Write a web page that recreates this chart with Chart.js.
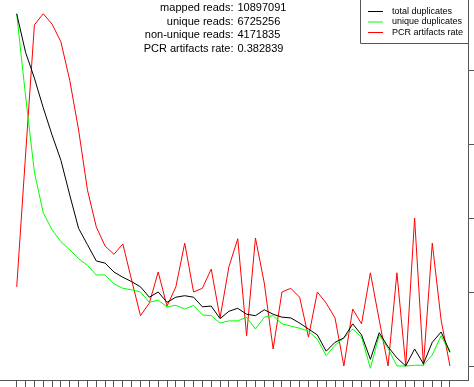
<!DOCTYPE html>
<html>
<head>
<meta charset="utf-8">
<script src="https://cdn.jsdelivr.net/npm/chart.js@4.4.0/dist/chart.umd.min.js"></script>
<style>
  html, body { margin: 0; padding: 0; background: #fff; }
  canvas { display: block; }
</style>
</head>
<body>
<canvas id="dupChart" width="474" height="387"></canvas>
<script>
// duplication level on the x axis
const levels = [1, 2, 3, 4, 5, 6, 7, 8, 9, 10, 11, 12, 13, 14, 15, 16, 17, 18, 19, 20,
  21, 22, 23, 24, 25, 26, 27, 28, 29, 30, 31, 32, 33, 34, 35, 36, 37, 38, 39, 40,
  41, 42, 43, 44, 45, 46, 47, 48, 49, 50];

const totalDuplicates = [4.76, 4.24, 3.89, 3.49, 3.12, 2.78, 2.31, 1.86, 1.64, 1.42,
  1.39, 1.27, 1.20, 1.14, 1.07, 0.93, 1.00, 0.86, 0.93, 0.95,
  0.93, 0.80, 0.81, 0.64, 0.74, 0.78, 0.70, 0.68, 0.76, 0.70,
  0.66, 0.65, 0.58, 0.50, 0.42, 0.20, 0.32, 0.38, 0.57, 0.42,
  0.09, 0.45, 0.26, 0.11, 0.00, 0.23, 0.03, 0.32, 0.46, 0.19];

const uniqueDuplicates = [4.76, 3.65, 2.62, 2.07, 1.84, 1.68, 1.57, 1.45, 1.36, 1.23,
  1.23, 1.11, 1.05, 1.03, 1.00, 0.86, 0.89, 0.80, 0.82, 0.77,
  0.82, 0.69, 0.68, 0.58, 0.61, 0.61, 0.66, 0.50, 0.66, 0.68,
  0.57, 0.54, 0.51, 0.47, 0.36, 0.14, 0.28, 0.38, 0.50, 0.39,
  -0.03, 0.42, 0.24, 0.00, 0.00, 0.01, 0.01, 0.15, 0.41, 0.18];

const pcrArtifactsRate = [1.07, 2.85, 4.61, 4.76, 4.62, 4.38, 3.86, 3.19, 2.38, 1.88,
  1.62, 1.51, 1.65, 1.16, 0.68, 0.85, 1.27, 0.81, 1.07, 1.66,
  1.00, 1.05, 1.31, 0.65, 1.34, 1.72, 0.41, 1.73, 1.12, 0.23,
  1.00, 1.05, 0.93, 0.39, 1.00, 0.85, 0.65, 0.00, 0.77, 0.57,
  1.26, 0.62, 0.00, 1.26, 0.00, 2.00, 0.01, 1.66, 0.62, 0.00];

const yTicks = [0, 1, 2, 3, 4];

const statLabels = ['mapped reads:', 'unique reads:', 'non-unique reads:', 'PCR artifacts rate:'];
const statValues = ['10897091', '6725256', '4171835', '0.382839'];

const seriesNames = ['total duplicates', 'unique duplicates', 'PCR artifacts rate'];
const seriesColors = ['#000000', '#00ff00', '#ff0000'];

function toPoints(values) {
  return levels.map((lv, i) => ({ x: lv, y: values[i] }));
}

// stats text in the top middle and the boxed legend at the top right
const overlay = {
  id: 'overlay',
  afterDraw(chart) {
    const ctx = chart.ctx;
    ctx.save();
    ctx.fillStyle = '#000';
    ctx.textBaseline = 'middle';
    ctx.font = '11px "Liberation Sans", Arial, sans-serif';
    statLabels.forEach((lab, i) => {
      const y = 8 + i * 13.5;
      ctx.textAlign = 'right';
      ctx.fillText(lab, 233.5, y);
      ctx.textAlign = 'left';
      ctx.fillText(statValues[i], 237.5, y);
    });

    const right = chart.chartArea.right;
    ctx.fillStyle = '#fff';
    ctx.fillRect(360, -2, right - 360, 45);
    ctx.strokeStyle = '#555';
    ctx.lineWidth = 1;
    ctx.beginPath();
    ctx.moveTo(360.5, -2);
    ctx.lineTo(360.5, 43.5);
    ctx.lineTo(right, 43.5);
    ctx.stroke();

    ctx.font = '9px "Liberation Sans", Arial, sans-serif';
    chart.data.datasets.forEach((ds, i) => {
      const y = 11.5 + i * 10.5;
      ctx.strokeStyle = ds.borderColor;
      ctx.beginPath();
      ctx.moveTo(368, y);
      ctx.lineTo(383, y);
      ctx.stroke();
      ctx.fillStyle = '#000';
      ctx.textAlign = 'left';
      ctx.fillText(ds.label, 392, y);
    });
    ctx.restore();
  }
};

new Chart(document.getElementById('dupChart'), {
  type: 'line',
  data: {
    datasets: [
      { label: seriesNames[0], data: toPoints(totalDuplicates), borderColor: seriesColors[0] },
      { label: seriesNames[1], data: toPoints(uniqueDuplicates), borderColor: seriesColors[1] },
      { label: seriesNames[2], data: toPoints(pcrArtifactsRate), borderColor: seriesColors[2] }
    ]
  },
  options: {
    responsive: false,
    animation: false,
    layout: { padding: 0 },
    elements: {
      line: { borderWidth: 1, tension: 0, fill: false },
      point: { radius: 0, hoverRadius: 0 }
    },
    plugins: {
      legend: { display: false },
      tooltip: { enabled: false }
    },
    scales: {
      x: {
        type: 'linear',
        min: -0.89,
        max: 52.04,
        afterBuildTicks: (s) => { s.ticks = levels.map(v => ({ value: v })); },
        ticks: { display: false, autoSkip: false },
        grid: { drawOnChartArea: false, drawTicks: true, tickLength: 7, color: '#555', lineWidth: 1 },
        border: { display: true, color: '#555', width: 1 }
      },
      y: {
        position: 'right',
        min: -0.189,
        max: 4.946,
        afterBuildTicks: (s) => { s.ticks = yTicks.map(v => ({ value: v })); },
        ticks: { display: false },
        grid: { drawOnChartArea: false, drawTicks: true, tickLength: 6, color: '#555', lineWidth: 1 },
        border: { display: true, color: '#555', width: 1 }
      }
    }
  },
  plugins: [overlay]
});
</script>
</body>
</html>
